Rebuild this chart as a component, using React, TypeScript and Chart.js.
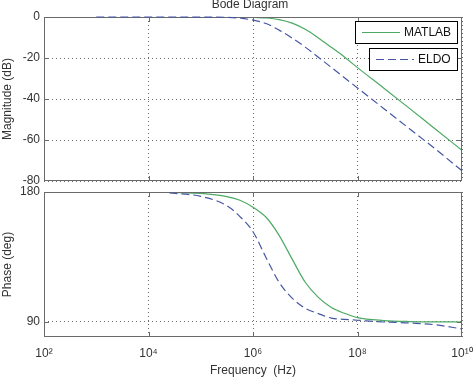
import React, { useEffect, useRef } from 'react';
import { Chart, registerables } from 'chart.js';
Chart.register(...registerables);

// ---- data ----
const seriesNames = ['MATLAB', 'ELDO'];
const magFreq = [1e3, 1e4, 1e5, 3.16e5, 1e6, 1.78e6, 3.16e6, 5.62e6, 1e7, 1.78e7, 3.16e7, 5.62e7, 1e8, 3.16e8, 1e9, 3.16e9, 1e10];
const magMatlab = [0, 0, 0, -0.05, -0.2, -0.5, -1.3, -3.0, -6.0, -10.2, -14.8, -19.5, -24.7, -34.6, -44.7, -54.9, -65.0];
const magEldo = [0, 0, -0.02, -0.15, -1.5, -3.2, -6.4, -10.3, -14.7, -19.6, -24.6, -29.6, -34.6, -44.6, -54.6, -64.6, -75.0];
const phaseFreq = [2.51e4, 1e5, 3.16e5, 5.62e5, 1e6, 1.78e6, 3.16e6, 5.62e6, 1e7, 1.78e7, 3.16e7, 5.62e7, 1e8, 3.16e8, 1e9, 3.16e9, 1e10];
const phaseMatlab = [179.8, 179.0, 176.8, 174.3, 169.5, 162.5, 150.0, 133.5, 117.5, 107.0, 100.0, 96.0, 93.0, 91.0, 90.3, 90.1, 90.0];
const phaseEldo = [179.3, 177.0, 170.5, 163.0, 152.5, 134.5, 117.5, 106.5, 99.5, 95.8, 92.7, 91.8, 91.2, 90.0, 89.3, 88.0, 85.2];
const freqTicks = [1e2, 1e4, 1e6, 1e8, 1e10];
const freqTickLabels = ['10²', '10⁴', '10⁶', '10⁸', '10¹⁰'];
const magTicks = [-80, -60, -40, -20, 0];
const phaseTicks = [90, 180];

const FONT = "'Liberation Sans', Arial, sans-serif";
const TEXT = '#333333';
const GRID = '#6a6a6a';
const FRAME = '#6a6a6a';
const GREEN = '#4caa62';
const BLUE = '#4557a4';

const pts = (xs: number[], ys: number[]) => xs.map((x, i) => ({ x, y: ys[i] }));

function drawFrame(chart: any) {
  const { ctx, chartArea: a, scales } = chart;
  const l = Math.round(a.left), t = Math.round(a.top), r = Math.round(a.right), b = Math.round(a.bottom);
  ctx.save();
  ctx.setLineDash([]);
  ctx.strokeStyle = FRAME;
  ctx.lineWidth = 1;
  ctx.strokeRect(l + 0.5, t + 0.5, r - l - 1, b - t - 1);
  ctx.beginPath();
  const xs = scales.x;
  xs.ticks.forEach((tk: any) => {
    const px = Math.round(xs.getPixelForValue(tk.value)) + 0.5;
    if (px < l + 2 || px > r - 2) return;
    ctx.moveTo(px, b); ctx.lineTo(px, b - 5);
    ctx.moveTo(px, t); ctx.lineTo(px, t + 5);
  });
  const ys = scales.y;
  ys.ticks.forEach((tk: any) => {
    const py = Math.round(ys.getPixelForValue(tk.value)) + 0.5;
    if (py < t + 2 || py > b - 2) return;
    ctx.moveTo(l, py); ctx.lineTo(l + 5, py);
    ctx.moveTo(r, py); ctx.lineTo(r - 5, py);
  });
  ctx.stroke();
  ctx.restore();
}

// frame is drawn over the MATLAB trace but under the ELDO trace
const framePlugin = {
  id: 'frame',
  afterDatasetDraw(chart: any, args: any) {
    if (args.index === 0) drawFrame(chart);
  },
};

const titlePlugin = {
  id: 'bodeTitle',
  afterDraw(chart: any) {
    const { ctx, chartArea: a } = chart;
    ctx.save();
    ctx.font = `12px ${FONT}`;
    ctx.fillStyle = TEXT;
    ctx.textAlign = 'center';
    ctx.textBaseline = 'alphabetic';
    ctx.fillText('Bode Diagram', (a.left + a.right) / 2 - 3, 8);
    ctx.restore();
  },
};

const legendPlugin = {
  id: 'boxLegend',
  afterDraw(chart: any) {
    const { ctx, chartArea: a } = chart;
    ctx.save();
    ctx.font = `12px ${FONT}`;
    let y = Math.round(a.top) + 4;
    chart.data.datasets.forEach((ds: any) => {
      const tw = ctx.measureText(ds.label).width;
      const w = Math.round(7 + 38 + 4 + tw + 6);
      const h = 22;
      const x = Math.round(a.right) - 5 - w;
      ctx.setLineDash([]);
      ctx.fillStyle = '#ffffff';
      ctx.fillRect(x, y, w, h);
      ctx.strokeStyle = '#000000';
      ctx.lineWidth = 1;
      ctx.strokeRect(x + 0.5, y + 0.5, w, h);
      ctx.strokeStyle = ds.borderColor;
      ctx.lineWidth = ds.borderWidth;
      ctx.setLineDash(ds.borderDash || []);
      ctx.beginPath();
      ctx.moveTo(x + 7, y + h / 2 + 0.5);
      ctx.lineTo(x + 45, y + h / 2 + 0.5);
      ctx.stroke();
      ctx.setLineDash([]);
      ctx.fillStyle = '#111111';
      ctx.textAlign = 'left';
      ctx.textBaseline = 'middle';
      ctx.fillText(ds.label, x + 49, y + h / 2 + 1);
      y += h + 5;
    });
    ctx.restore();
  },
};

function xAxis(showLabels: boolean) {
  return {
    type: 'logarithmic',
    min: freqTicks[0],
    max: freqTicks[freqTicks.length - 1],
    afterBuildTicks: (s: any) => { s.ticks = freqTicks.map((v) => ({ value: v })); },
    afterFit: (s: any) => { s.paddingLeft = 0; s.paddingRight = 0; s.height = showLabels ? 41 : 0; },
    grid: { color: GRID, drawTicks: false, lineWidth: 1 },
    border: { display: false, dash: [1, 3] },
    ticks: {
      display: showLabels,
      autoSkip: false,
      maxRotation: 0,
      padding: 9,
      color: TEXT,
      font: { family: FONT, size: 12 },
      callback: (_v: any, i: number) => freqTickLabels[i],
    },
    title: { display: showLabels, text: 'Frequency  (Hz)', color: TEXT, font: { family: FONT, size: 12 }, padding: 0 },
  };
}

function yAxis(min: number, max: number, ticks: number[], title: string) {
  return {
    min, max,
    afterBuildTicks: (s: any) => { s.ticks = ticks.map((v) => ({ value: v })); },
    afterFit: (s: any) => { s.width = 44; s.paddingTop = 0; s.paddingBottom = 0; },
    grid: { color: GRID, drawTicks: false, lineWidth: 1 },
    border: { display: false, dash: [1, 3] },
    ticks: { padding: 4, color: TEXT, font: { family: FONT, size: 12 } },
    title: { display: true, text: title, color: TEXT, font: { family: FONT, size: 12 }, padding: 0 },
  };
}

function datasets(xs: number[], a: number[], b: number[]) {
  return [
    { label: seriesNames[0], data: pts(xs, a), borderColor: GREEN, borderWidth: 1.2, pointRadius: 0, cubicInterpolationMode: 'monotone', fill: false, order: 1 },
    { label: seriesNames[1], data: pts(xs, b), borderColor: BLUE, borderWidth: 1.2, borderDash: [8, 4], pointRadius: 0, cubicInterpolationMode: 'monotone', fill: false, order: 0, clip: { left: 0, top: 2, right: 1, bottom: 0 } },
  ];
}

export default function App() {
  const topRef = useRef<HTMLCanvasElement>(null);
  const botRef = useRef<HTMLCanvasElement>(null);

  useEffect(() => {
    const common = {
      responsive: false,
      animation: false,
      plugins: { legend: { display: false }, tooltip: { enabled: false }, title: { display: false } },
    };
    const top = new Chart(topRef.current as HTMLCanvasElement, {
      type: 'line',
      data: { datasets: datasets(magFreq, magMatlab, magEldo) as any },
      options: {
        ...common,
        layout: { padding: { top: 17, left: 0, right: 12, bottom: 5 } },
        scales: { x: xAxis(false) as any, y: yAxis(-80, 0, magTicks, 'Magnitude (dB)') as any },
      } as any,
      plugins: [framePlugin, titlePlugin, legendPlugin],
    });
    const bot = new Chart(botRef.current as HTMLCanvasElement, {
      type: 'line',
      data: { datasets: datasets(phaseFreq, phaseMatlab, phaseEldo) as any },
      options: {
        ...common,
        layout: { padding: { top: 6, left: 0, right: 12, bottom: 0 } },
        scales: { x: xAxis(true) as any, y: yAxis(79.6, 180, phaseTicks, 'Phase (deg)') as any },
      } as any,
      plugins: [framePlugin],
    });
    return () => { top.destroy(); bot.destroy(); };
  }, []);

  return (
    <div style={{ position: 'absolute', left: 0, top: 0, width: 474, height: 378, background: '#ffffff' }}>
      <canvas ref={topRef} width={474} height={186} style={{ position: 'absolute', left: 0, top: 0, width: 474, height: 186 }} />
      <canvas ref={botRef} width={474} height={192} style={{ position: 'absolute', left: 0, top: 186, width: 474, height: 192 }} />
    </div>
  );
}
